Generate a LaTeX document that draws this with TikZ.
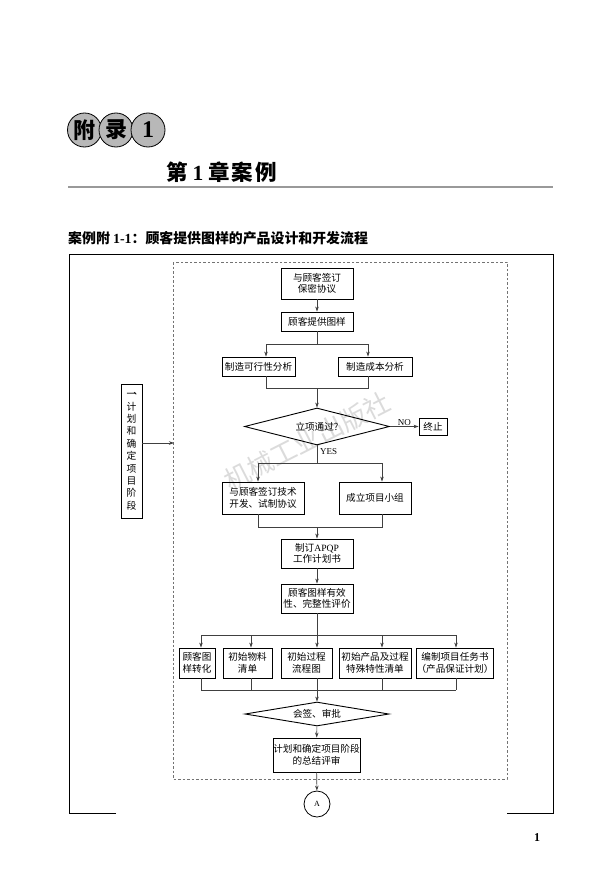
\documentclass[tikz,border=0pt]{standalone}
\usepackage{fontspec}
\setmainfont{Liberation Serif}
\newfontfamily\cjk{Noto Sans CJK SC}
\usetikzlibrary{shapes.geometric,arrows.meta}
\begin{document}
\begin{tikzpicture}[x=1pt,y=-1pt,
  box/.style={draw,line width=0.9pt,inner sep=0pt,align=center,font=\cjk\fontsize{9.6}{11.5}\selectfont},
  dia/.style={draw,diamond,line width=0.9pt,inner sep=0pt,font=\cjk\fontsize{9.6}{11.5}\selectfont},
  con/.style={line width=0.6pt,draw=black!75},
  arr/.style={con,-{Stealth[length=5pt,width=3.5pt]}},
  hcirc/.style={circle,draw,fill=black!28,minimum size=34pt,inner sep=0pt,line width=0.8pt},
  lbl/.style={font=\fontsize{9}{9}\selectfont,inner sep=1pt},
]
\useasboundingbox (0,0) rectangle (612,880);
\fill[white] (0,0) rectangle (612,880);

% watermark
\node[rotate=27,text=black!14,font=\cjk\fontsize{26}{26}\selectfont] (wm) at (307,441) {机械工业出版社};

% header
\node[hcirc,font=\cjk\bfseries\fontsize{22}{22}\selectfont] (c1) at (84.5,130) {附};
\node[hcirc,font=\cjk\bfseries\fontsize{22}{22}\selectfont] (c2) at (116,130) {录};
\node[hcirc,font=\bfseries\fontsize{24}{24}\selectfont] (c3) at (148,130) {1};
\node[anchor=west,inner sep=0pt,font=\cjk\bfseries\fontsize{21.5}{21.5}\selectfont] (title) at (166,172) {第 {\rmfamily 1} 章\hspace{2pt}案\hspace{2pt}例};
\draw[line width=2pt,draw=black!40] (68,187) -- (553,187);
\node[anchor=west,inner sep=0pt,font=\cjk\bfseries\fontsize{13.9}{14}\selectfont] (cap) at (68,238) {案例附 {\rmfamily 1-1}：顾客提供图样的产品设计和开发流程};
\node[font=\bfseries\fontsize{12}{12}\selectfont] (pg) at (537,838) {1};

% frames
\draw[line width=0.9pt] (116,813) -- (69,813) -- (69,254) -- (553,254) -- (553,813) -- (507,813);
\draw[dash pattern=on 2.5pt off 2pt,draw=black!55,line width=0.6pt] (173,262) rectangle (507,779);

% left label box
\node[draw,line width=0.9pt,minimum width=21pt,minimum height=134pt,inner sep=0pt,align=center,font=\cjk\fontsize{9.8}{12.4}\selectfont] (L) at (131.5,451)
 {一\rlap{\raisebox{.35em}{\kern-.3em 、}}\\计\\划\\和\\确\\定\\项\\目\\阶\\段};
\coordinate (dl) at (174,443);
\draw[arr] (L.east |- dl) -- (dl);

% flow nodes
\node[box,minimum width=72pt,minimum height=31pt] (n1) at (317,283.5) {与顾客签订\\保密协议};
\node[box,minimum width=72pt,minimum height=19pt] (n2) at (317,321.5) {顾客提供图样};
\node[box,minimum width=73pt,minimum height=19pt] (n3) at (258.5,366.5) {制造可行性分析};
\node[box,minimum width=74pt,minimum height=19pt] (n4) at (375,366.5) {制造成本分析};
\node[dia,aspect=3.9,minimum width=145pt,minimum height=37pt] (d1) at (317,426.5) {立项通过?};
\node[box,minimum width=28pt,minimum height=17pt] (stop) at (433,426.5) {终止};
\node[box,minimum width=82pt,minimum height=32pt] (n6) at (263,498) {与顾客签订技术\\开发、试制协议};
\node[box,minimum width=72pt,minimum height=32pt] (n7) at (375,498) {成立项目小组};
\node[box,minimum width=72pt,minimum height=29pt] (n8) at (317,553.5) {制订{\rmfamily APQP}\\工作计划书};
\node[box,minimum width=72pt,minimum height=29pt] (n9) at (317,598.5) {顾客图样有效\\性、完整性评价};
\node[box,minimum width=36pt,minimum height=30pt] (b1) at (197,663) {顾客图\\样转化};
\node[box,minimum width=49pt,minimum height=30pt] (b2) at (247.5,663) {初始物料\\清单};
\node[box,minimum width=51pt,minimum height=30pt] (b3) at (306.5,663) {初始过程\\流程图};
\node[box,minimum width=72pt,minimum height=30pt] (b4) at (375,663) {初始产品及过程\\特殊特性清单};
\node[box,minimum width=74pt,minimum height=30pt] (b5) at (455,663) {编制项目任务书\\（产品保证计划）};
\node[dia,aspect=6,minimum width=144pt,minimum height=24pt] (d2) at (317,714) {会签、审批};
\node[box,minimum width=87pt,minimum height=34pt] (n10) at (316.5,755) {计划和确定项目阶段\\的总结评审};
\node[draw,circle,line width=0.8pt,minimum size=26pt,inner sep=0pt,font=\fontsize{8}{8}\selectfont] (A) at (317,804) {A};

% connectors
\draw[arr] (n1) -- (n2);
\coordinate (j1l) at (266,344); \coordinate (j1r) at (368,344);
\draw[con] (n2.south) -- (n2.south |- j1l);
\draw[con] (j1l) -- (j1r);
\draw[arr] (j1l) -- (j1l |- n3.north);
\draw[arr] (j1r) -- (j1r |- n4.north);
\coordinate (k1l) at (266,388); \coordinate (k1r) at (368,388);
\draw[con] (k1l |- n3.south) -- (k1l) -- (k1r) -- (k1r |- n4.south);
\draw[arr] (d1.north |- k1l) -- (d1.north);

\draw[arr] (d1.east) -- (stop.west) node[lbl,midway,above] {NO};
\node[lbl,anchor=west] (yes) at (319,452) {YES};

\coordinate (j2l) at (258,463); \coordinate (j2r) at (382,463);
\draw[con] (d1.south) -- (d1.south |- j2l);
\draw[con] (j2l) -- (j2r);
\draw[arr] (j2l) -- (j2l |- n6.north);
\draw[arr] (j2r) -- (j2r |- n7.north);
\coordinate (k2l) at (258,527); \coordinate (k2r) at (382,527);
\draw[con] (k2l |- n6.south) -- (k2l) -- (k2r) -- (k2r |- n7.south);
\draw[arr] (n8.north |- k2l) -- (n8.north);
\draw[arr] (n8) -- (n9);

\coordinate (j3a) at (201,635); \coordinate (j3b) at (251,635); \coordinate (j3c) at (317,635);
\coordinate (j3d) at (382,635); \coordinate (j3e) at (456,635);
\draw[con] (n9.south) -- (j3c);
\draw[con] (j3a) -- (j3e);
\draw[arr] (j3a) -- (j3a |- b1.north);
\draw[arr] (j3b) -- (j3b |- b2.north);
\draw[arr] (j3c) -- (j3c |- b3.north);
\draw[arr] (j3d) -- (j3d |- b4.north);
\draw[arr] (j3e) -- (j3e |- b5.north);
\coordinate (k3a) at (201,690); \coordinate (k3b) at (251,690); \coordinate (k3c) at (317,690);
\coordinate (k3d) at (382,690); \coordinate (k3e) at (456,690);
\draw[con] (k3a) -- (k3e);
\draw[con] (k3a |- b1.south) -- (k3a);
\draw[con] (k3b |- b2.south) -- (k3b);
\draw[con] (k3c |- b3.south) -- (k3c);
\draw[con] (k3d |- b4.south) -- (k3d);
\draw[con] (k3e |- b5.south) -- (k3e);
\draw[arr] (k3c) -- (d2.north);
\draw[arr] (d2) -- (n10);
\draw[arr] (n10) -- (A);
\end{tikzpicture}
\end{document}
